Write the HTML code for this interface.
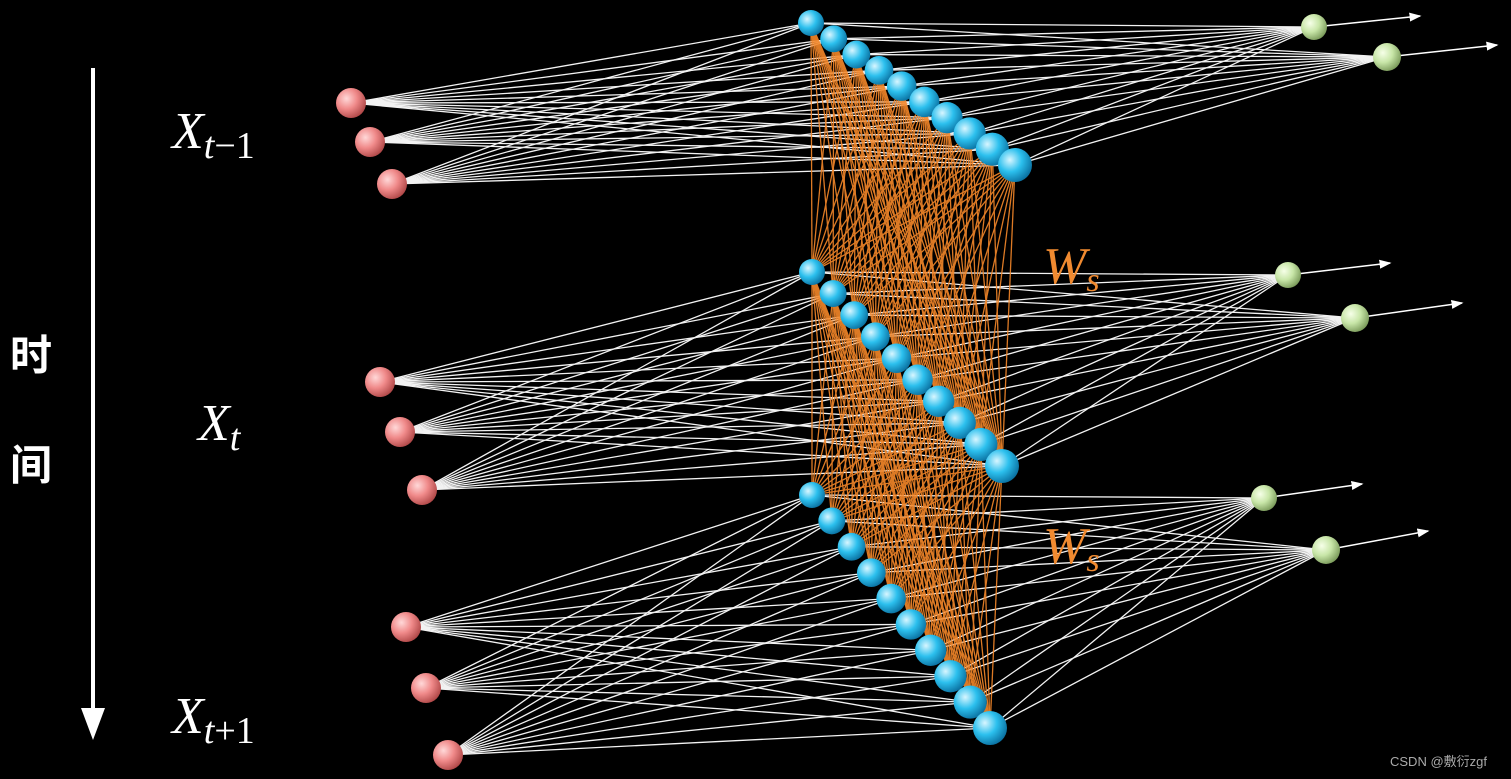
<!DOCTYPE html>
<html><head><meta charset="utf-8">
<style>
html,body{margin:0;padding:0;background:#000;width:1511px;height:779px;overflow:hidden}
svg{display:block}
.lab{font-family:"Liberation Serif",serif;font-style:italic;fill:#fff}
</style></head>
<body>
<svg id="s" width="1511" height="779" viewBox="0 0 1511 779" xmlns="http://www.w3.org/2000/svg">
<defs>
<radialGradient id="gr" cx="35%" cy="35%" r="70%"><stop offset="0" stop-color="#ffd8d8"/><stop offset="0.5" stop-color="#f08a8a"/><stop offset="1" stop-color="#b04848"/></radialGradient>
<radialGradient id="gb" cx="35%" cy="35%" r="70%"><stop offset="0" stop-color="#d8f6ff"/><stop offset="0.5" stop-color="#2cc0ee"/><stop offset="1" stop-color="#0a70a0"/></radialGradient>
<radialGradient id="gg" cx="35%" cy="35%" r="70%"><stop offset="0" stop-color="#f6ffe8"/><stop offset="0.5" stop-color="#c8e6a8"/><stop offset="1" stop-color="#7a9a5a"/></radialGradient>
<marker id="ah" markerWidth="8" markerHeight="6" refX="7" refY="3" orient="auto"><path d="M0,0L8,3L0,6z" fill="#fff"/></marker>
</defs>
<g id="lw" stroke="#fff" stroke-width="1.3" opacity="0.95"></g>
<g id="lo" stroke="#f5882a" stroke-width="1.3" opacity="0.9"></g>
<g id="ar" stroke="#fff" stroke-width="1.5"></g>
<g id="nodes"></g>
<line x1="93" y1="68" x2="93" y2="712" stroke="#fff" stroke-width="4"/>
<path d="M81,708 L105,708 L93,740 z" fill="#fff"/>
<text x="10" y="370" fill="#fff" font-size="42" font-family="Liberation Sans,'Noto Sans CJK SC',sans-serif" font-weight="bold">时</text>
<text x="10" y="480" fill="#fff" font-size="42" font-family="Liberation Sans,'Noto Sans CJK SC',sans-serif" font-weight="bold">间</text>
<text class="lab" x="172" y="148" font-size="52">X<tspan font-size="38" dy="10">t</tspan><tspan font-size="38" font-style="normal">−1</tspan></text>
<text class="lab" x="198" y="440" font-size="52">X<tspan font-size="38" dy="10">t</tspan></text>
<text class="lab" x="172" y="733" font-size="52">X<tspan font-size="38" dy="10">t</tspan><tspan font-size="38" font-style="normal">+1</tspan></text>
<text class="lab" x="1043" y="283" font-size="52" style="fill:#f08a30">W<tspan font-size="34" dy="8">s</tspan></text>
<text class="lab" x="1043" y="563" font-size="52" style="fill:#f08a30">W<tspan font-size="34" dy="8">s</tspan></text>
<text x="1390" y="766" fill="#aaa" font-size="13" font-family="Liberation Sans,'Noto Sans CJK SC',sans-serif">CSDN @敷衍zgf</text>
</svg>
<script>
var NS="http://www.w3.org/2000/svg";
function el(p,t,a){var e=document.createElementNS(NS,t);for(var k in a)e.setAttribute(k,a[k]);p.appendChild(e);return e;}
var L=[
 {r:[[351,103],[370,142],[392,184]],b:[[811,23],[1015,165]],g:[[1314,27],[1387,57]],a:[[1420,16],[1497,45]]},
 {r:[[380,382],[400,432],[422,490]],b:[[812,272],[1002,466]],g:[[1288,275],[1355,318]],a:[[1390,263],[1462,303]]},
 {r:[[406,627],[426,688],[448,755]],b:[[812,495],[990,728]],g:[[1264,498],[1326,550]],a:[[1362,484],[1428,531]]}
];
var N=10,lw=document.getElementById('lw'),lo=document.getElementById('lo'),ar=document.getElementById('ar'),nd=document.getElementById('nodes');
L.forEach(function(l){var bs=[];for(var i=0;i<N;i++){var t=i/(N-1);bs.push([l.b[0][0]+(l.b[1][0]-l.b[0][0])*t,l.b[0][1]+(l.b[1][1]-l.b[0][1])*t,13+4*t]);}l.bs=bs;});
L.forEach(function(l){
 l.r.forEach(function(r){l.bs.forEach(function(b){el(lw,'line',{x1:r[0],y1:r[1],x2:b[0],y2:b[1]});});});
 l.g.forEach(function(g){l.bs.forEach(function(b){el(lw,'line',{x1:b[0],y1:b[1],x2:g[0],y2:g[1]});});});
 l.g.forEach(function(g,i){el(ar,'line',{x1:g[0],y1:g[1],x2:l.a[i][0],y2:l.a[i][1],'marker-end':'url(#ah)'});});
});
for(var k=0;k<2;k++){L[k].bs.forEach(function(a){L[k+1].bs.forEach(function(b){el(lo,'line',{x1:a[0],y1:a[1],x2:b[0],y2:b[1]});});});}
L.forEach(function(l){
 l.r.forEach(function(r){el(nd,'circle',{cx:r[0],cy:r[1],r:15,fill:'url(#gr)'});});
 l.bs.forEach(function(b){el(nd,'circle',{cx:b[0],cy:b[1],r:b[2],fill:'url(#gb)'});});
 l.g.forEach(function(g,i){el(nd,'circle',{cx:g[0],cy:g[1],r:13+i,fill:'url(#gg)'});});
});
</script>
</body></html>
